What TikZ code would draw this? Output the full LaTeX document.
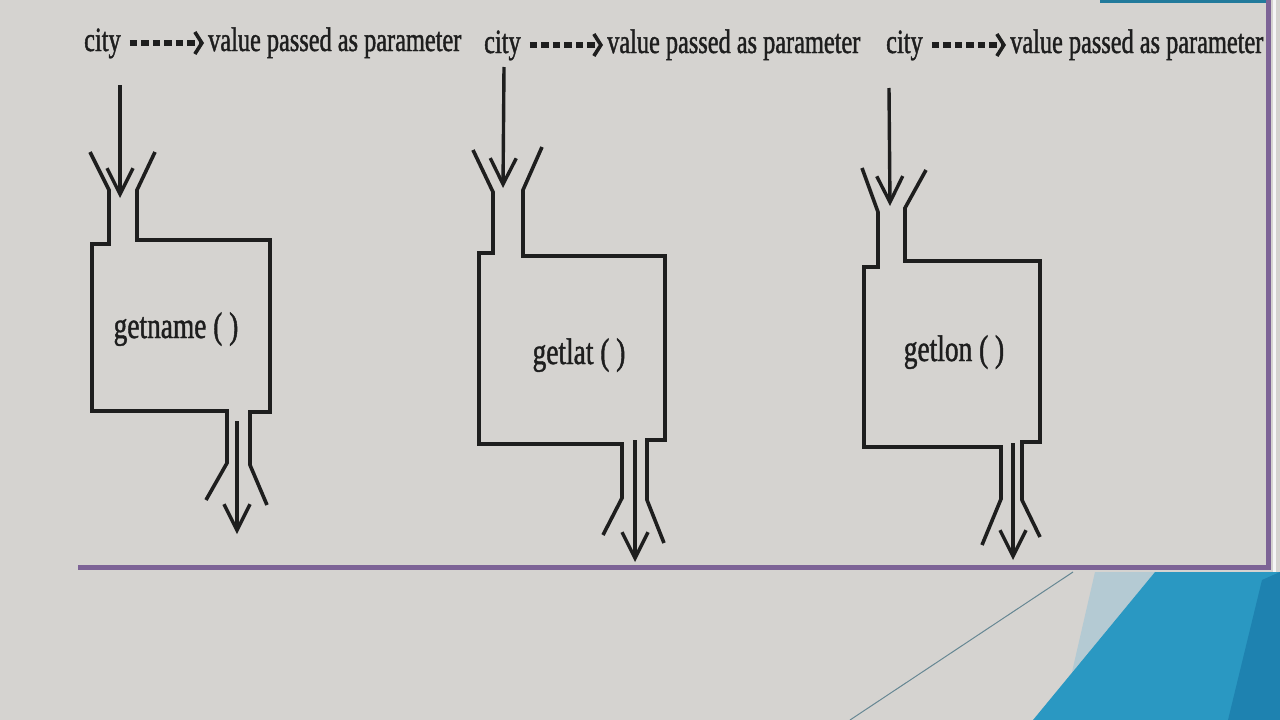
\documentclass[tikz,border=0pt]{standalone}
\usepackage{fontspec}
\setmainfont{Liberation Serif}
\newfontfamily\condserif[FakeStretch=0.74,FakeBold=1.2]{Liberation Serif}
\newfontfamily\topserif[FakeStretch=0.715,FakeBold=1.2]{Liberation Serif}
\usetikzlibrary{arrows.meta,calc}
\definecolor{bggray}{HTML}{D5D3D0}
\definecolor{slidepurple}{HTML}{7D6396}
\definecolor{slideblue}{HTML}{2A98C2}
\definecolor{darkblue}{HTML}{1E82B0}
\definecolor{paleblue}{HTML}{B4CAD3}
\definecolor{inkline}{HTML}{1E1E1E}
\tikzset{
  toplabel/.style={inner sep=0pt, anchor=base west, text height=22pt, text depth=6pt,
    font=\topserif\fontsize{34}{39}\selectfont, text=inkline},
  boxlabel/.style={inner sep=0pt, anchor=base, font=\condserif\fontsize{37}{42}\selectfont, text=inkline},
  dasharr/.style={draw=inkline, line width=5.5pt, dash pattern=on 7.5pt off 4pt,
    -{Straight Barb[length=7pt,width=22pt,line width=3.6pt]}, shorten <=9pt, shorten >=4pt},
  funnel/.style={draw=inkline, line width=3.6pt, line join=miter},
  flowarr/.style={draw=inkline, line width=3.4pt, -{Straight Barb[length=26pt,width=26pt]}}
}
\begin{document}
\begin{tikzpicture}[x=1pt,y=-1pt]
\useasboundingbox (0,0) rectangle (1280,720);
% background (photographed slide)
\fill[bggray] (0,0) rectangle (1280,720);
\fill[slideblue!80!black] (1100,0) rectangle (1266,3);
\fill[paleblue] (1095,572) -- (1155,572) -- (1072,672) -- cycle;
\fill[slideblue] (1033,720) -- (1155,572) -- (1280,572) -- (1280,720) -- cycle;
\fill[darkblue] (1262,580) -- (1280,572) -- (1280,720) -- (1228,720) -- cycle;
\draw[gray!70!slideblue, line width=1pt] (850,720) -- (1073,572);
\draw[white!92!gray, line width=3pt] (1274,0) -- (1274,572);
\draw[slidepurple, line width=5pt] (78,567) -- (1271,567);
\draw[slidepurple, line width=4.5pt] (1268.5,0) -- (1268.5,569);

% top labels
\node[toplabel] (c1) at (84,51) {city};
\node[toplabel] (v1) at (208,51) {value passed as parameter};
\draw[dasharr] (c1.east) -- (v1.west);
\node[toplabel] (c2) at (484,53) {city};
\node[toplabel] (v2) at (607,53) {value passed as parameter};
\draw[dasharr] (c2.east) -- (v2.west);
\node[toplabel] (c3) at (886,53) {city};
\node[toplabel] (v3) at (1010,53) {value passed as parameter};
\draw[dasharr] (c3.east) -- (v3.west);

% box 1 : getname
\draw[funnel] (90,152) -- (109,190) -- (109,244) -- (92,244) -- (92,411) -- (227,411) -- (227,463) -- (206,500);
\draw[funnel] (155,152) -- (137,190) -- (137,240) -- (270,240) -- (270,412) -- (250,412) -- (250,465) -- (267,505);
\node[boxlabel] (b1) at (176,338) {getname ( )};
\coordinate (in1s) at (120,85);  \coordinate (in1e) at (120,198);
\coordinate (out1s) at (237,421); \coordinate (out1e) at (237,534);
\draw[flowarr] (in1s) -- (in1e);
\draw[flowarr] (out1s) -- (out1e);

% box 2 : getlat
\draw[funnel] (473,150) -- (493,192) -- (493,253) -- (479,253) -- (479,444) -- (622,444) -- (622,498) -- (603,535);
\draw[funnel] (542,147) -- (523,190) -- (523,256) -- (665,256) -- (665,440) -- (647,440) -- (647,500) -- (664,543);
\node[boxlabel] (b2) at (579,364) {getlat ( )};
\coordinate (in2s) at (504,67);  \coordinate (in2e) at (503,188);
\coordinate (out2s) at (635,440); \coordinate (out2e) at (635,562);
\draw[flowarr] (in2s) -- (in2e);
\draw[flowarr] (out2s) -- (out2e);

% box 3 : getlon
\draw[funnel] (862,168) -- (878,212) -- (878,267) -- (864,267) -- (864,447) -- (1001,447) -- (1001,499) -- (982,545);
\draw[funnel] (926,170) -- (905,208) -- (905,261) -- (1040,261) -- (1040,442) -- (1022,442) -- (1022,500) -- (1040,537);
\node[boxlabel] (b3) at (954,361) {getlon ( )};
\coordinate (in3s) at (889,88);  \coordinate (in3e) at (890,206);
\coordinate (out3s) at (1013,443); \coordinate (out3e) at (1013,560);
\draw[flowarr] (in3s) -- (in3e);
\draw[flowarr] (out3s) -- (out3e);
\end{tikzpicture}
\end{document}
